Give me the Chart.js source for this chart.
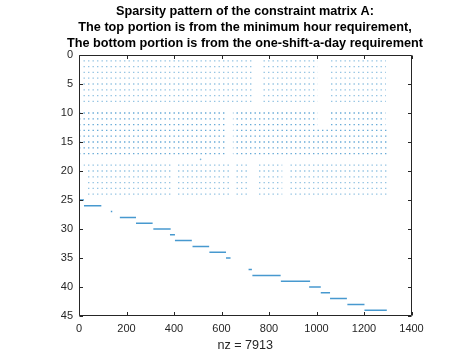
<!DOCTYPE html>
<html><head><meta charset="utf-8">
<script src="https://cdn.jsdelivr.net/npm/chart.js@4.4.0/dist/chart.umd.min.js"></script>
<style>html,body{margin:0;padding:0;background:#fff;}#wrap{width:474px;height:355px;}</style>
</head><body><div id="wrap"><canvas id="c" width="474" height="355"></canvas></div>
<script>
// ---- text / ticks ----
const titleLines = [
  'Sparsity pattern of the constraint matrix A:',
  'The top portion is from the minimum hour requirement,',
  'The bottom portion is from the one-shift-a-day requirement'
];
const xLabel = 'nz = 7913';
const xTicks = [0, 200, 400, 600, 800, 1000, 1200, 1400];
const yTicks = [0, 5, 10, 15, 20, 25, 30, 35, 40, 45];

// ---- top portion (minimum hour requirement): rows and column spans of the dotted pattern ----
const hourRowsA = [1, 2, 3, 4, 5, 6, 7, 8];
const hourSpansA = [[15, 735], [772, 1005], [1058, 1292]];
const hourRowsB = [10, 11, 12];
const hourSpansB = [[3, 615], [648, 1005], [1058, 1290]];
const hourRowsC = [13, 14, 15, 16, 17];
const hourSpansC = [[3, 615], [648, 1296]];
const hourRowsD = [19];
const hourSpansD = [[20, 390], [410, 636], [650, 713], [748, 856], [889, 1296]];
const hourRowsE = [20, 21, 22, 23, 24];
const hourSpansE = [[37, 390], [410, 636], [650, 713], [748, 856], [889, 1296]];
const isolatedRow = [18];
const isolatedCol = [512];

// ---- bottom portion (one-shift-a-day requirement): one solid run per row ----
const dayRows  = [25, 26, 27, 28, 29, 30, 31, 32, 33, 34, 35, 37, 38, 39, 40, 41, 42, 43, 44];
const dayStart = [0, 21, 134, 172, 240, 313, 383, 404, 478, 549, 619, 714, 730, 850, 969, 1018, 1057, 1130, 1202];
const dayEnd   = [21, 94, 140, 240, 310, 386, 404, 475, 548, 619, 638, 728, 849, 973, 1018, 1057, 1128, 1202, 1296];

// ---- build datasets ----
const DOT_PERIOD = 4.5;
const datasets = [];
function dashOffset(ctx) {
  const xs = ctx.chart.scales && ctx.chart.scales.x;
  if (!xs || !ctx.dataset || !ctx.dataset.data.length) return 0;
  const p0 = xs.getPixelForValue(ctx.dataset.data[0].x);
  const d = (p0 - xs.left) % DOT_PERIOD;
  return d < 0 ? d + DOT_PERIOD : d;
}
function addDotted(rows, spans, dark) {
  rows.forEach(r => spans.forEach(s => {
    datasets.push({
      type: 'line',
      data: [{x: s[0], y: r}, {x: s[1], y: r}],
      borderColor: dark ? 'rgba(0,114,189,0.6)' : 'rgba(0,114,189,0.42)',
      borderWidth: 1.3,
      borderDash: [1.4, DOT_PERIOD - 1.4],
      borderDashOffset: dashOffset,
      borderCapStyle: 'butt',
      pointRadius: 0,
      fill: false
    });
  }));
}
addDotted(hourRowsA, hourSpansA, false);
addDotted(hourRowsB, hourSpansB, true);
addDotted(hourRowsC, hourSpansC, true);
addDotted(hourRowsD, hourSpansD, false);
addDotted(hourRowsE, hourSpansE, false);

datasets.push({
  type: 'scatter',
  data: isolatedRow.map((r, i) => ({x: isolatedCol[i], y: r})),
  pointStyle: 'circle', pointRadius: 0.8,
  backgroundColor: 'rgba(0,114,189,0.5)', borderWidth: 0
});

dayRows.forEach((r, i) => {
  datasets.push({
    type: 'line',
    data: [{x: dayStart[i], y: r}, {x: dayEnd[i], y: r}],
    borderColor: 'rgba(0,114,189,0.72)',
    borderWidth: 1.5,
    borderCapStyle: 'butt',
    pointRadius: 0,
    fill: false
  });
});

// ---- frame with inward ticks (box on) ----
const frame = {
  id: 'frame',
  afterDatasetsDraw(chart) {
    const {ctx, chartArea: a, scales: {x, y}} = chart;
    const L = Math.round(a.left) + 0.5, R = Math.round(a.right) - 0.5;
    const T = Math.round(a.top) + 0.5, B = Math.round(a.bottom) - 0.5;
    const tl = 3.5;
    ctx.save();
    ctx.strokeStyle = '#262626';
    ctx.lineWidth = 1;
    ctx.beginPath();
    ctx.rect(L, T, R - L, B - T);
    xTicks.forEach(v => {
      const px = Math.round(x.getPixelForValue(v)) + 0.5;
      ctx.moveTo(px, B); ctx.lineTo(px, B - tl);
      ctx.moveTo(px, T); ctx.lineTo(px, T + tl);
    });
    yTicks.forEach(v => {
      const py = Math.round(y.getPixelForValue(v)) + 0.5;
      ctx.moveTo(L, py); ctx.lineTo(L + tl, py);
      ctx.moveTo(R, py); ctx.lineTo(R - tl, py);
    });
    ctx.stroke();
    ctx.restore();
  }
};

const FONT = "'Liberation Sans', Arial, Helvetica, sans-serif";
new Chart(document.getElementById('c'), {
  type: 'line',
  data: {datasets},
  options: {
    responsive: false,
    animation: false,
    events: [],
    layout: {padding: {left: 16, right: 0, top: 0, bottom: 0}},
    plugins: {
      legend: {display: false},
      tooltip: {enabled: false},
      title: {
        display: true,
        fullSize: true,
        text: titleLines,
        color: '#000',
        font: {family: FONT, size: 12.7, weight: 'bold', lineHeight: '16px'},
        padding: {top: 3, bottom: 4}
      }
    },
    scales: {
      x: {
        type: 'linear', min: 0, max: 1400,
        afterBuildTicks: s => { s.ticks = xTicks.map(v => ({value: v})); },
        afterFit: s => { s.height = 39; },
        grid: {display: false, drawTicks: false},
        border: {display: false},
        ticks: {color: '#262626', font: {family: FONT, size: 11}, padding: 6, maxRotation: 0, autoSkip: false,
                callback: v => String(v)},
        title: {display: true, text: xLabel, color: '#262626', font: {family: FONT, size: 12.6}, padding: {top: 0, bottom: 2}}
      },
      y: {
        type: 'linear', min: 0, max: 45, reverse: true,
        afterBuildTicks: s => { s.ticks = yTicks.map(v => ({value: v})); },
        afterFit: s => { s.width = 63; },
        grid: {display: false, drawTicks: false},
        border: {display: false},
        ticks: {color: '#262626', font: {family: FONT, size: 11}, padding: 6, autoSkip: false,
                callback: v => String(v)}
      },
      yRight: {
        type: 'linear', position: 'right', min: 0, max: 1,
        afterFit: s => { s.width = 62.5; },
        grid: {display: false, drawTicks: false},
        border: {display: false},
        ticks: {display: false}
      }
    }
  },
  plugins: [frame]
});
</script>
</body></html>
